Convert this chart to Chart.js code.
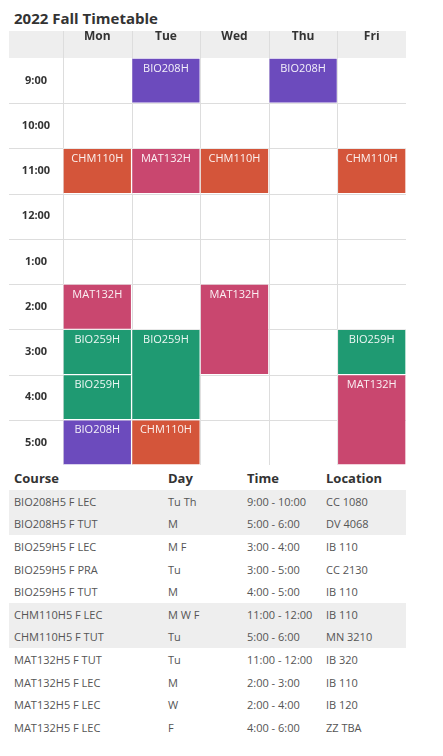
<!DOCTYPE html>
<html>
<head>
<meta charset="utf-8">
<script src="https://cdn.jsdelivr.net/npm/chart.js@4"></script>
<style>
  body { margin: 0; background: #fff; font-family: "Open Sans", sans-serif; width: 443px; height: 756px; overflow: hidden; position: relative; }
  #title { position: absolute; left: 14px; top: 8px; font-size: 15px; font-weight: bold; color: #333; }
  #wrap { position: absolute; left: 9px; top: 31px; width: 397px; height: 434px; }
  table { position: absolute; left: 9px; top: 466px; width: 397px; border-collapse: collapse; font-size: 11px; color: #555; }
  th { text-align: left; font-size: 13px; color: #333; height: 24px; padding: 0 0 0 5px; }
  td { height: 22.6px; padding: 0 0 0 5px; }
  tr.g td { background: #eeeeee; }
</style>
</head>
<body>
<div id="title">2022 Fall Timetable</div>
<div id="wrap"><canvas id="myChart"></canvas></div>
<table id="tbl">
  <tr><th style="width:149px">Course</th><th style="width:74px">Day</th><th style="width:74px">Time</th><th>Location</th></tr>
</table>
<script>
// timetable data
var days = ['Mon', 'Tue', 'Wed', 'Thu', 'Fri'];
var hourLabels = ['9:00', '10:00', '11:00', '12:00', '1:00', '2:00', '3:00', '4:00', '5:00'];
var courseNames = ['BIO208H', 'BIO259H', 'CHM110H', 'MAT132H'];
var courseColors = ['#6c4bbd', '#1f9a72', '#d4553a', '#c9476f'];
// [course index, day, start hour, end hour]
var sessions = [
  [0, 'Tue', 9, 10], [0, 'Thu', 9, 10], [0, 'Mon', 17, 18],
  [1, 'Mon', 15, 16], [1, 'Fri', 15, 16], [1, 'Tue', 15, 17], [1, 'Mon', 16, 17],
  [2, 'Mon', 11, 12], [2, 'Wed', 11, 12], [2, 'Fri', 11, 12], [2, 'Tue', 17, 18],
  [3, 'Tue', 11, 12], [3, 'Mon', 14, 15], [3, 'Wed', 14, 16], [3, 'Fri', 16, 18]
];
var tableRows = [
  ['BIO208H5 F LEC', 'Tu Th', '9:00 - 10:00', 'CC 1080'],
  ['BIO208H5 F TUT', 'M', '5:00 - 6:00', 'DV 4068'],
  ['BIO259H5 F LEC', 'M F', '3:00 - 4:00', 'IB 110'],
  ['BIO259H5 F PRA', 'Tu', '3:00 - 5:00', 'CC 2130'],
  ['BIO259H5 F TUT', 'M', '4:00 - 5:00', 'IB 110'],
  ['CHM110H5 F LEC', 'M W F', '11:00 - 12:00', 'IB 110'],
  ['CHM110H5 F TUT', 'Tu', '5:00 - 6:00', 'MN 3210'],
  ['MAT132H5 F TUT', 'Tu', '11:00 - 12:00', 'IB 320'],
  ['MAT132H5 F LEC', 'M', '2:00 - 3:00', 'IB 110'],
  ['MAT132H5 F LEC', 'W', '2:00 - 4:00', 'IB 120'],
  ['MAT132H5 F LEC', 'F', '4:00 - 6:00', 'ZZ TBA']
];
var greyRows = [0, 1, 5, 6];

var tbl = document.getElementById('tbl');
tableRows.forEach(function (r, i) {
  var tr = document.createElement('tr');
  if (greyRows.indexOf(i) >= 0) tr.className = 'g';
  r.forEach(function (c) { var td = document.createElement('td'); td.textContent = c; tr.appendChild(td); });
  tbl.appendChild(tr);
});

var datasets = sessions.map(function (s) {
  return {
    label: courseNames[s[0]],
    data: [{ x: s[1], y: [s[2], s[3]] }],
    backgroundColor: courseColors[s[0]],
    borderColor: 'rgba(255,255,255,0.35)',
    borderWidth: 1,
    borderSkipped: false,
    grouped: false,
    barPercentage: 1,
    categoryPercentage: 1
  };
});

var gridPlugin = {
  id: 'grid',
  beforeDraw: function (chart) {
    var c = chart.ctx, a = chart.chartArea, y = chart.scales.y, x = chart.scales.x;
    c.save();
    c.fillStyle = '#eeeeee';
    c.fillRect(0, 0, chart.width, a.top);
    c.strokeStyle = '#dddddd';
    c.lineWidth = 1;
    for (var h = 10; h < 18; h++) {
      var py = Math.round(y.getPixelForValue(h)) + 0.5;
      c.beginPath(); c.moveTo(0, py); c.lineTo(a.right, py); c.stroke();
    }
    for (var i = 0; i <= days.length; i++) {
      var px = Math.round(a.left + i * (a.right - a.left) / days.length) + 0.5;
      c.beginPath(); c.moveTo(px, 0); c.lineTo(px, a.bottom); c.stroke();
    }
    c.fillStyle = '#333';
    c.font = 'bold 11px "Open Sans"';
    c.textAlign = 'center'; c.textBaseline = 'middle';
    hourLabels.forEach(function (t, k) {
      c.fillText(t, a.left / 2, y.getPixelForValue(9.5 + k));
    });
    c.restore();
  },
  afterDatasetsDraw: function (chart) {
    var c = chart.ctx;
    c.save();
    c.fillStyle = 'rgba(255,255,255,0.92)';
    c.font = '11px "Open Sans"';
    c.textAlign = 'center'; c.textBaseline = 'top';
    chart.data.datasets.forEach(function (ds, i) {
      chart.getDatasetMeta(i).data.forEach(function (bar) {
        c.fillText(ds.label, bar.x, Math.min(bar.y, bar.base) + 5);
      });
    });
    c.strokeStyle = '#dddddd';
    var a = chart.chartArea;
    c.beginPath(); c.moveTo(0, a.bottom + 0.5); c.lineTo(a.right, a.bottom + 0.5); c.stroke();
    c.restore();
  }
};

var ctx = document.getElementById('myChart').getContext('2d');
var myChart = new Chart(ctx, {
  type: 'bar',
  data: { labels: days, datasets: datasets },
  plugins: [gridPlugin],
  options: {
    responsive: true,
    maintainAspectRatio: false,
    animation: false,
    layout: { padding: 0 },
    plugins: { legend: { display: false }, tooltip: { enabled: false } },
    scales: {
      x: {
        position: 'top',
        grid: { display: false },
        border: { display: false },
        ticks: { color: '#333', font: { family: 'Open Sans', size: 12, weight: 'bold' }, padding: 6 },
        afterFit: function (s) { s.height = 27; }
      },
      y: {
        reverse: true,
        min: 9, max: 18,
        grid: { display: false },
        border: { display: false },
        ticks: { display: false },
        afterFit: function (s) { s.width = 54; }
      }
    }
  }
});
</script>
</body>
</html>
